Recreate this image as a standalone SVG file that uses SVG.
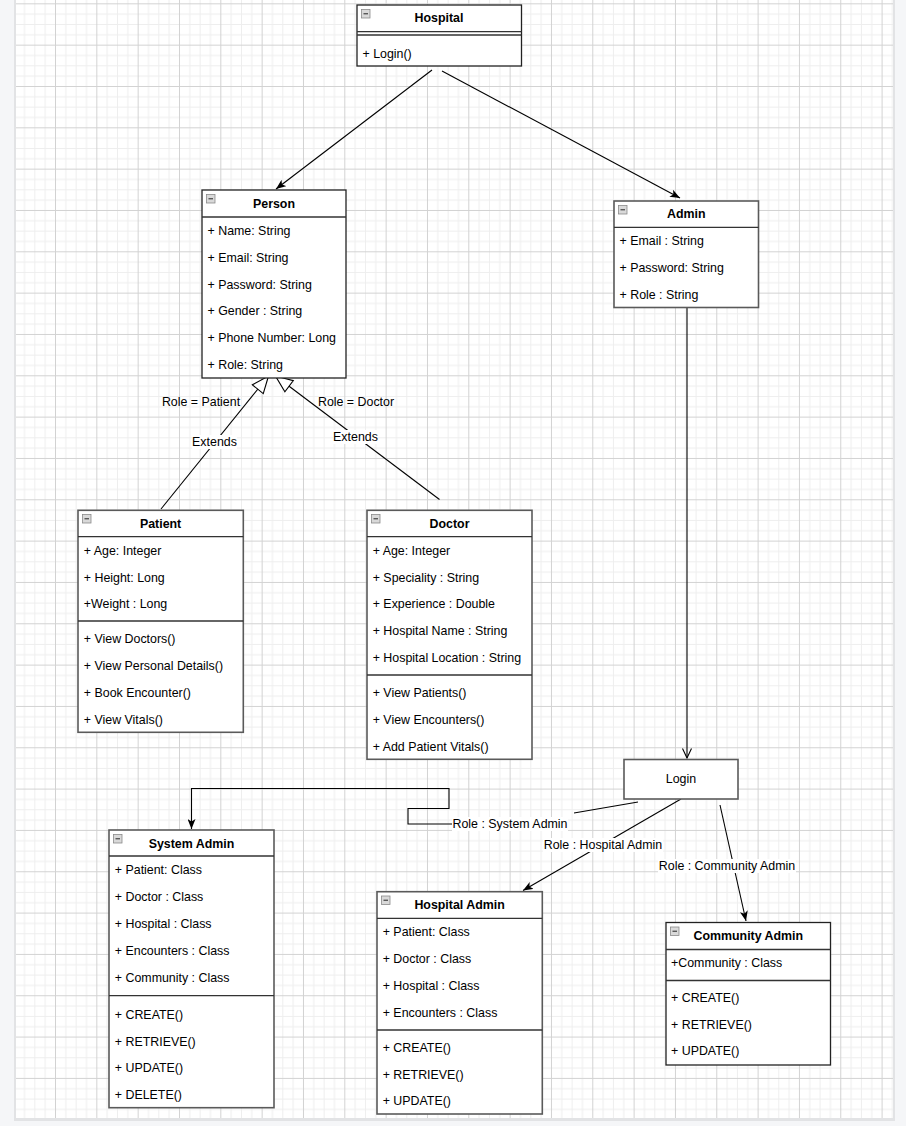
<svg xmlns="http://www.w3.org/2000/svg" width="906" height="1126" viewBox="0 0 906 1126">
<style>
.box{fill:#fff;stroke:#222;stroke-width:1.3}
.g{stroke:#5a5a5a;stroke-width:1.6}
.sep{stroke:#333;stroke-width:1.3}
.t{font-family:"Liberation Sans",Arial,sans-serif;font-size:12.4px;fill:#000}
.h{font-weight:bold;text-anchor:middle}
.m{text-anchor:middle}
.edge{fill:none;stroke:#000;stroke-width:1.1}
.bg{fill:#fff}
</style>
<defs>
<pattern id="grid" patternUnits="userSpaceOnUse" x="13.67" y="3.33" width="41.33" height="41.33">
<path d="M10.83 0V41.33M21.17 0V41.33M31.5 0V41.33M0 10.83H41.33M0 21.17H41.33M0 31.5H41.33" stroke="#eeeeee" stroke-width="1"/>
<path d="M0.5 0V41.33M0 0.5H41.33" stroke="#d2d2d2" stroke-width="1"/>
</pattern>
<g id="col"><rect x="0" y="0" width="8.5" height="8.5" fill="#d9d9d9" stroke="#8a8a8a" stroke-width="0.8"/><line x1="2" y1="4.25" x2="6.5" y2="4.25" stroke="#444" stroke-width="1.2"/></g>
<marker id="arrow" viewBox="0 0 10 8" refX="10" refY="4" markerWidth="10" markerHeight="8" markerUnits="userSpaceOnUse" orient="auto"><path d="M0,0 L10,4 L0,8 L2.5,4 Z" fill="#000"/></marker>
<marker id="open" viewBox="0 0 11 10" refX="10" refY="5" markerWidth="11" markerHeight="10" markerUnits="userSpaceOnUse" orient="auto"><path d="M0.5,0.5 L10,5 L0.5,9.5" fill="none" stroke="#000" stroke-width="1.1"/></marker>
<marker id="tri" viewBox="0 0 19 16" refX="18" refY="8" markerWidth="19" markerHeight="16" markerUnits="userSpaceOnUse" orient="auto"><path d="M1,1 L18,8 L1,15 Z" fill="#fff" stroke="#000" stroke-width="1.1"/></marker>
</defs>
<rect x="0" y="0" width="906" height="1126" fill="#f5f6f8"/>
<rect x="14" y="0" width="881" height="1121" fill="#e2e3e5"/>
<rect x="16" y="0" width="877" height="1118" fill="#fff"/>
<rect x="16" y="0" width="877" height="1118" fill="url(#grid)"/>

<g id="connectors">
<path class="edge" d="M432,70 L276,189" marker-end="url(#arrow)"/>
<path class="edge" d="M442,71 L680,198" marker-end="url(#arrow)"/>
<path class="edge" d="M161,509 L268.5,376" marker-end="url(#tri)"/>
<path class="edge" d="M439.5,499.5 L275.5,376" marker-end="url(#tri)"/>
<path class="edge" d="M687,308 L687,758" marker-end="url(#open)"/>
<path class="edge" d="M638,802 L574,813"/>
<path class="edge" d="M453,824 H408 V808.5 H449 V788.5 H191.5 V829" marker-end="url(#arrow)"/>
<path class="edge" d="M681,799 L523,890.5" marker-end="url(#arrow)"/>
<path class="edge" d="M720,805 L746,921" marker-end="url(#arrow)"/>
<rect class="bg" x="192" y="435" width="45" height="14"/>
<text class="t m" x="214.5" y="446.4">Extends</text>
<rect class="bg" x="333" y="430" width="45" height="14"/>
<text class="t m" x="355.5" y="441.4">Extends</text>
<text class="t m" x="201" y="406.4">Role = Patient</text>
<text class="t m" x="356" y="406.4">Role = Doctor</text>
<rect class="bg" x="452" y="817" width="116" height="14"/>
<text class="t m" x="510" y="828.4">Role : System Admin</text>
<rect class="bg" x="543" y="838" width="120" height="14"/>
<text class="t m" x="603" y="849.4">Role : Hospital Admin</text>
<rect class="bg" x="658" y="859" width="138" height="14"/>
<text class="t m" x="727" y="870.4">Role : Community Admin</text>
</g>

<g id="hospital">
<rect class="box" x="357" y="5" width="164.5" height="61"/>
<line class="sep" x1="357" y1="31.7" x2="521.5" y2="31.7"/>
<line class="sep" x1="357" y1="35" x2="521.5" y2="35"/>
<use href="#col" x="361.5" y="9.5"/>
<text class="t h" x="439" y="21.6">Hospital</text>
<text class="t" x="362.5" y="57.7">+ Login()</text>
</g>

<g id="person">
<rect class="box" x="202" y="190" width="144" height="188"/>
<line class="sep" x1="202" y1="217" x2="346" y2="217"/>
<use href="#col" x="206.5" y="194.5"/>
<text class="t h" x="274" y="208">Person</text>
<text class="t" x="207.5" y="235.4">+ Name: String</text>
<text class="t" x="207.5" y="262">+ Email: String</text>
<text class="t" x="207.5" y="288.7">+ Password: String</text>
<text class="t" x="207.5" y="315.1">+ Gender : String</text>
<text class="t" x="207.5" y="342">+ Phone Number: Long</text>
<text class="t" x="207.5" y="368.7">+ Role: String</text>
</g>

<g id="admin">
<rect class="box g" x="614" y="201" width="144.5" height="106.5"/>
<line class="sep" x1="614" y1="227.3" x2="758.5" y2="227.3"/>
<use href="#col" x="618.5" y="205.5"/>
<text class="t h" x="686.3" y="218">Admin</text>
<text class="t" x="619.5" y="245.4">+ Email : String</text>
<text class="t" x="619.5" y="272">+ Password: String</text>
<text class="t" x="619.5" y="298.7">+ Role : String</text>
</g>

<g id="patient">
<rect class="box g" x="78" y="510.3" width="165.3" height="222"/>
<line class="sep" x1="78" y1="536.7" x2="243.3" y2="536.7"/>
<line class="sep" x1="78" y1="621" x2="243.3" y2="621"/>
<use href="#col" x="82.5" y="514.5"/>
<text class="t h" x="160.6" y="527.8">Patient</text>
<text class="t" x="83.8" y="555">+ Age: Integer</text>
<text class="t" x="83.8" y="581.7">+ Height: Long</text>
<text class="t" x="83.8" y="608.4">+Weight : Long</text>
<text class="t" x="83.8" y="642.7">+ View Doctors()</text>
<text class="t" x="83.8" y="670">+ View Personal Details()</text>
<text class="t" x="83.8" y="696.7">+ Book Encounter()</text>
<text class="t" x="83.8" y="723.7">+ View Vitals()</text>
</g>

<g id="doctor">
<rect class="box g" x="367" y="510.3" width="165" height="249"/>
<line class="sep" x1="367" y1="536.7" x2="532" y2="536.7"/>
<line class="sep" x1="367" y1="675" x2="532" y2="675"/>
<use href="#col" x="371.5" y="514.5"/>
<text class="t h" x="449.5" y="528.1">Doctor</text>
<text class="t" x="372.7" y="555.4">+ Age: Integer</text>
<text class="t" x="372.7" y="582">+ Speciality : String</text>
<text class="t" x="372.7" y="608.4">+ Experience : Double</text>
<text class="t" x="372.7" y="635">+ Hospital Name : String</text>
<text class="t" x="372.7" y="661.7">+ Hospital Location : String</text>
<text class="t" x="372.7" y="697">+ View Patients()</text>
<text class="t" x="372.7" y="723.7">+ View Encounters()</text>
<text class="t" x="372.7" y="751">+ Add Patient Vitals()</text>
</g>

<g id="login">
<rect class="box g" x="624" y="759.5" width="114" height="39.5"/>
<text class="t m" x="681" y="783.4">Login</text>
</g>

<g id="system-admin">
<rect class="box g" x="109" y="830" width="165" height="277.7"/>
<line class="sep" x1="109" y1="856" x2="274" y2="856"/>
<line class="sep" x1="109" y1="995.7" x2="274" y2="995.7"/>
<use href="#col" x="113.5" y="834.5"/>
<text class="t h" x="191.5" y="848.1">System Admin</text>
<text class="t" x="114.8" y="873.7">+ Patient: Class</text>
<text class="t" x="114.8" y="901">+ Doctor : Class</text>
<text class="t" x="114.8" y="928">+ Hospital : Class</text>
<text class="t" x="114.8" y="955">+ Encounters : Class</text>
<text class="t" x="114.8" y="981.7">+ Community : Class</text>
<text class="t" x="114.8" y="1018.7">+ CREATE()</text>
<text class="t" x="114.8" y="1045.7">+ RETRIEVE()</text>
<text class="t" x="114.8" y="1072.4">+ UPDATE()</text>
<text class="t" x="114.8" y="1099.4">+ DELETE()</text>
</g>

<g id="hospital-admin">
<rect class="box g" x="377" y="891.7" width="165.3" height="222.3"/>
<line class="sep" x1="377" y1="918.3" x2="542.3" y2="918.3"/>
<line class="sep" x1="377" y1="1030" x2="542.3" y2="1030"/>
<use href="#col" x="381.5" y="896"/>
<text class="t h" x="459.6" y="908.7">Hospital Admin</text>
<text class="t" x="382.7" y="936">+ Patient: Class</text>
<text class="t" x="382.7" y="963">+ Doctor : Class</text>
<text class="t" x="382.7" y="990">+ Hospital : Class</text>
<text class="t" x="382.7" y="1017">+ Encounters : Class</text>
<text class="t" x="382.7" y="1051.7">+ CREATE()</text>
<text class="t" x="382.7" y="1078.7">+ RETRIEVE()</text>
<text class="t" x="382.7" y="1105.4">+ UPDATE()</text>
</g>

<g id="community-admin">
<rect class="box" x="666" y="922.5" width="164.5" height="142.5"/>
<line class="sep" x1="666" y1="949.5" x2="830.5" y2="949.5"/>
<line class="sep" x1="666" y1="980.5" x2="830.5" y2="980.5"/>
<use href="#col" x="670.5" y="927"/>
<text class="t h" x="748.3" y="939.5">Community Admin</text>
<text class="t" x="671" y="966.7">+Community : Class</text>
<text class="t" x="671" y="1001.6">+ CREATE()</text>
<text class="t" x="671" y="1028.5">+ RETRIEVE()</text>
<text class="t" x="671" y="1055.4">+ UPDATE()</text>
</g>
</svg>
